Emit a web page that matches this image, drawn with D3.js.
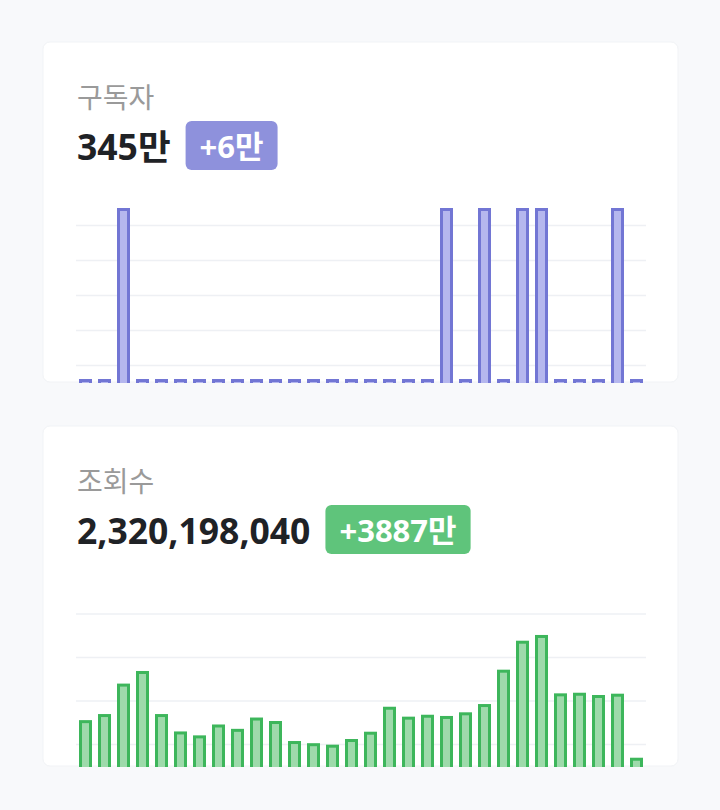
<!DOCTYPE html>
<html><head><meta charset="utf-8">
<script src="https://cdn.jsdelivr.net/npm/d3@7/dist/d3.min.js"></script>
<style>
html,body{margin:0;padding:0;background:#f8f9fb;}
svg{display:block;font-family:"Noto Sans CJK KR","Noto Sans",sans-serif;}
.num{font-family:"Noto Sans","Noto Sans CJK KR",sans-serif;}
</style></head>
<body>
<svg id="c" width="720" height="810"></svg>
<script>
// ---- data ----
const days = d3.range(1, 31).map(d => "D" + d);
const subscriberGain = [0,0,10000,0,0,0,0,0,0,0,0,0,0,0,0,0,0,0,0,10000,0,10000,0,10000,10000,0,0,0,10000,0];
const subscriberGrid = [1000,3000,5000,7000,9000];
const viewGain = [1280000,1350000,1700000,1845000,1350000,1150000,1105000,1230000,1180000,1310000,
                  1270000,1040000,1015000,998000,1063000,1147000,1434000,1320000,1342000,1328000,
                  1370000,1465000,1860000,2193000,2259000,1588000,1595000,1569000,1584000,848000];
const viewGrid = [0,500000,1000000,1500000,2000000,2500000];

const cards = [
  {title:"구독자", value:"345만", badge:"+6만", data:subscriberGain, grid:subscriberGrid,
   domain:[0,10000], range:[341,166], badgeColor:"#8e91dc", stroke:"#7276d4", fill:"#b5b7ee", top:42, minLen:4},
  {title:"조회수", value:"2,320,198,040", badge:"+3887만", data:viewGain, grid:viewGrid,
   domain:[0,2500000], range:[405.5,188], badgeColor:"#5fc47b", stroke:"#3db65b", fill:"#9edaab", top:426, minLen:0}
];

const svg = d3.select("#c");
const cardX = 43, cardW = 635, cardH = 340;
const x = d3.scaleBand().domain(days).range([33, 603]).paddingInner(6/19).paddingOuter(3/19);

cards.forEach((c, i) => {
  const g = svg.append("g").attr("transform", `translate(${cardX},${c.top})`);
  const cid = "clip" + i;
  svg.append("defs").append("clipPath").attr("id", cid)
    .append("rect").attr("width", cardW).attr("height", cardH + 1).attr("rx", 7);
  g.append("rect").attr("width", cardW).attr("height", cardH).attr("rx", 7)
    .attr("fill", "#fff").attr("stroke", "#f1f3f6").attr("stroke-width", 1);

  g.append("text").attr("x", 34).attr("y", 66).attr("font-size", 28)
    .attr("fill", "#9a9a9a").text(c.title);
  const vt = g.append("text").attr("class", "num").attr("x", 34).attr("y", 117.5).attr("font-size", 35.5)
    .attr("font-weight", 700).attr("fill", "#1f2226").text(c.value);
  const vw = vt.node().getComputedTextLength();
  const bg = g.append("g").attr("transform", `translate(${34 + vw + 15},79)`);
  const br = bg.append("rect").attr("height", 49).attr("rx", 6).attr("fill", c.badgeColor);
  const bt = bg.append("text").attr("class", "num").attr("x", 14).attr("y", 37).attr("font-size", 31)
    .attr("font-weight", 700).attr("fill", "#fff").text(c.badge);
  br.attr("width", bt.node().getComputedTextLength() + 28);

  const y = d3.scaleLinear().domain(c.domain).range(c.range);
  const plot = g.append("g").attr("clip-path", `url(#${cid})`);
  plot.selectAll("line.grid").data(c.grid).join("line")
    .attr("x1", x.range()[0]).attr("x2", x.range()[1])
    .attr("y1", d => y(d)).attr("y2", d => y(d))
    .attr("stroke", "#eef0f4").attr("stroke-width", 1.5);
  const sw = 3;
  plot.selectAll("rect.bar").data(c.data).join("rect")
    .attr("x", (d, j) => x(days[j]) + sw/2)
    .attr("width", x.bandwidth() - sw)
    .attr("y", d => Math.min(y(d), y(0) - c.minLen) + sw/2)
    .attr("height", d => y(0) + 10 - Math.min(y(d), y(0) - c.minLen))
    .attr("fill", c.fill).attr("stroke", c.stroke).attr("stroke-width", sw);
});
</script>
</body></html>
